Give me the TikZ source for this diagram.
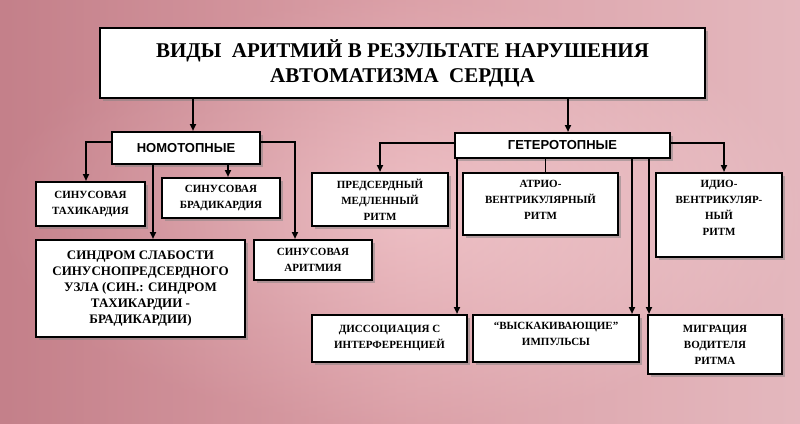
\documentclass[tikz,border=0pt]{standalone}
\usepackage{fontspec}
\setmainfont{Liberation Serif}
\newfontfamily\hsans{Liberation Sans}
\usetikzlibrary{shadows,arrows.meta}
\definecolor{bgl}{RGB}{196,128,138}
\definecolor{bgm}{RGB}{232,178,184}
\definecolor{bgr}{RGB}{246,214,218}
\begin{document}
\begin{tikzpicture}[x=1pt,y=-1pt,
 bx/.style={draw=black,line width=2pt,fill=white,align=center,inner sep=0pt,
   drop shadow={opacity=0.5,shadow xshift=2.5pt,shadow yshift=-2.5pt},
   font=\bfseries\fontsize{11}{16}\selectfont},
 ar/.style={line width=1.8pt,-{Triangle[length=7pt,width=6pt]}}]
\shade[left color=bgl, right color=bgr, middle color=bgm] (0,0) rectangle (800,423);
\shade[inner color=bgr,outer color=bgl,opacity=0.35] (0,0) rectangle (800,423);
\useasboundingbox (0,0) rectangle (800,423);
\newcommand\bxat[6]{\node[bx,minimum width=#4-#2,minimum height=#5-#3] (#1) at ({(#2+#4)/2},{(#3+#5)/2}) {#6};}
\bxat{t}{100}{28}{705}{98}{\fontsize{21}{28}\selectfont ВИДЫ\ \ АРИТМИЙ В РЕЗУЛЬТАТЕ НАРУШЕНИЯ\\[6pt]\fontsize{21}{28}\selectfont АВТОМАТИЗМА\ \ СЕРДЦА}
\bxat{n}{112}{132}{260}{164}{\hsans\fontsize{13}{15}\selectfont НОМОТОПНЫЕ}
\bxat{h}{455}{133}{670}{158}{\hsans\fontsize{13}{15}\selectfont ГЕТЕРОТОПНЫЕ}
\bxat{a}{36}{182}{145}{226}{СИНУСОВАЯ\\ТАХИКАРДИЯ}
\bxat{b}{162}{178}{280}{218}{СИНУСОВАЯ\\БРАДИКАРДИЯ}
\bxat{c}{36}{240}{245}{337}{\fontsize{13}{19}\selectfont СИНДРОМ СЛАБОСТИ\\\fontsize{13}{19}\selectfont СИНУСНОПРЕДСЕРДНОГО\\\fontsize{13}{19}\selectfont УЗЛА (СИН.: СИНДРОМ\\\fontsize{13}{19}\selectfont ТАХИКАРДИИ -\\\fontsize{13}{19}\selectfont БРАДИКАРДИИ)}
\bxat{d}{254}{240}{372}{280}{СИНУСОВАЯ\\АРИТМИЯ}
\bxat{e}{312}{173}{448}{226}{ПРЕДСЕРДНЫЙ\\МЕДЛЕННЫЙ\\РИТМ}
\node[bx,minimum width=155,minimum height=62] (f) at (540.5,204) {};
\node[font=\bfseries\fontsize{11}{16}\selectfont,align=center,anchor=north] at (540.5,177) {АТРИО-\\ВЕНТРИКУЛЯРНЫЙ\\РИТМ};
\node[bx,minimum width=126,minimum height=84] (g) at (719,215) {};
\node[font=\bfseries\fontsize{11}{16}\selectfont,align=center,anchor=north] at (719,177) {ИДИО-\\ВЕНТРИКУЛЯР-\\НЫЙ\\РИТМ};
\bxat{i}{312}{315}{467}{362}{ДИССОЦИАЦИЯ С\\ИНТЕРФЕРЕНЦИЕЙ}
\node[bx,minimum width=166,minimum height=47] (j) at (556,338.5) {};
\node[font=\bfseries\fontsize{11}{16}\selectfont,align=center,anchor=north] at (556,319) {“ВЫСКАКИВАЮЩИЕ”\\ИМПУЛЬСЫ};
\bxat{k}{648}{315}{782}{374}{МИГРАЦИЯ\\ВОДИТЕЛЯ\\РИТМА}
\draw[ar] (t.south -| 193,0) -- (n.north -| 193,0);
\draw[ar] (t.south -| 568,0) -- (h.north -| 568,0);
\draw[ar] (n.west |- 0,142) -| (a.north -| 86,0);
\draw[ar] (n.south -| 228,0) -- (b.north -| 228,0);
\draw[ar] (n.south -| 153,0) -- (c.north -| 153,0);
\draw[ar] (n.east |- 0,142) -| (d.north -| 295,0);
\draw[ar] (h.west |- 0,143) -| (e.north -| 380,0);
\draw[line width=0.8pt] (h.south -| 545,0) -- (f.north -| 545,0);
\draw[ar] (h.east |- 0,143) -| (g.north -| 724,0);
\draw[ar] (h.south -| 457,0) -- (i.north -| 457,0);
\draw[ar] (h.south -| 632,0) -- (j.north -| 632,0);
\draw[ar] (h.south -| 649,0) -- (k.north -| 649,0);
\end{tikzpicture}
\end{document}
